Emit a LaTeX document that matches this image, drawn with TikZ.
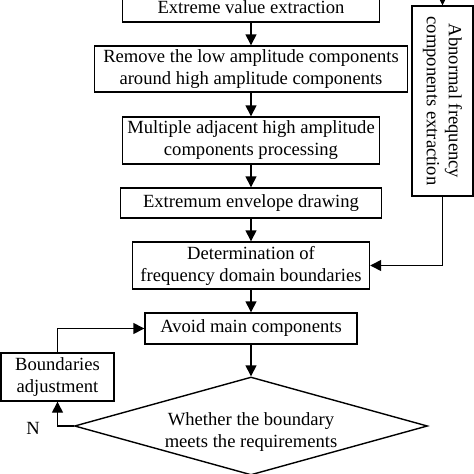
\documentclass[tikz,border=0pt]{standalone}
\usepackage{fontspec}
\setmainfont{Liberation Serif}
\usetikzlibrary{arrows.meta,shapes.geometric}
\begin{document}
\begin{tikzpicture}[x=1pt,y=-1pt,
  every node/.style={font=\fontsize{18.6}{22}\selectfont},
  box/.style={draw,line width=1.4pt,inner sep=0pt,align=center},
  conn/.style={line width=1.4pt,-{Triangle[length=11pt,width=11pt]}},
  plain/.style={line width=1.4pt}]
\useasboundingbox (0,0) rectangle (474,474);
\node[box,minimum width=257,minimum height=30] (b1) at (251,7) {Extreme value extraction};
\node[box,minimum width=313,minimum height=46] (b2) at (251,69) {Remove the low amplitude components\\around high amplitude components};
\node[box,minimum width=257,minimum height=47] (b3) at (251,140.5) {Multiple adjacent high amplitude\\components processing};
\node[box,minimum width=261,minimum height=30] (b4) at (251,203) {Extremum envelope drawing};
\node[box,minimum width=237,minimum height=47] (b5) at (251,265.5) {Determination of\\frequency domain boundaries};
\node[box,minimum width=212,minimum height=31] (b6) at (251,328.5) {Avoid main components};
\node[box,minimum width=190,minimum height=61,rotate=-90] (ab) at (442.5,101) {Abnormal frequency\\components extraction};
\node[box,minimum width=113,minimum height=48] (adj) at (57.5,377) {Boundaries\\adjustment};
\node[draw,line width=1.4pt,shape=diamond,inner sep=0pt,minimum width=353,minimum height=98,align=center] (dm) at (251,426) {};
\node[align=center] (dmt) at (251,432) {Whether the boundary\\meets the requirements};
\node (n) at (33,428) {N};
\coordinate (abtop) at (442.5,-12);
\coordinate (abturn) at (442.5,265.5);
\coordinate (dmturn) at (57.5,426);
\coordinate (adjturn) at (57.5,328.5);
\draw[conn] (abtop) -- (ab.west);
\draw[conn] (b1) -- (b2);
\draw[conn] (b2) -- (b3);
\draw[conn] (b3) -- (b4);
\draw[conn] (b4) -- (b5);
\draw[conn] (b5) -- (b6);
\draw[conn] (b6) -- (dm.north);
\draw[conn] (ab.east) -- (abturn) -- (b5.east);
\draw[conn] (dm.west) -- (dmturn) -- (adj.south);
\draw[conn] (adj.north) -- (adjturn) -- (b6.west);
\end{tikzpicture}
\end{document}
